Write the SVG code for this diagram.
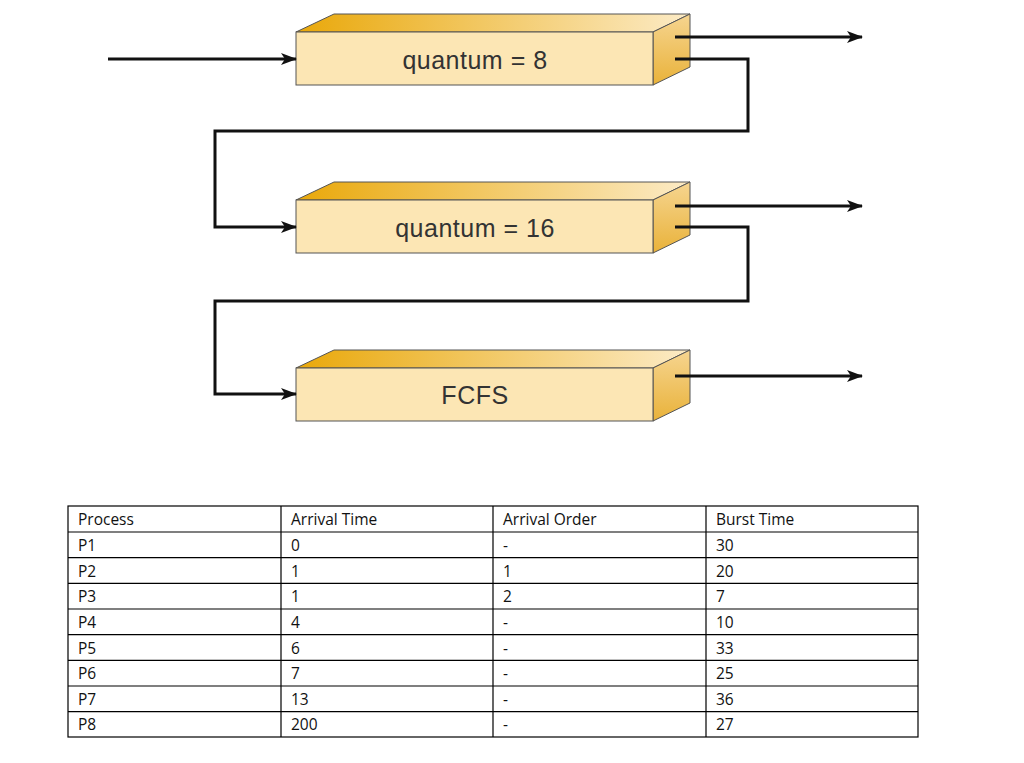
<svg xmlns="http://www.w3.org/2000/svg" width="1024" height="763" viewBox="0 0 1024 763">
<style>
.front{fill:#fce6b4;stroke:#555;stroke-width:1}
.top{fill:url(#gt);stroke:#555;stroke-width:1}
.side{fill:url(#gs);stroke:#555;stroke-width:1}
.lbl{font-family:"Liberation Sans",Arial,sans-serif;font-size:25px;letter-spacing:0.5px;fill:#333;text-anchor:middle}
.ln{fill:none;stroke:#111;stroke-width:3}
.cell{font-family:"Open Sans","Liberation Sans",sans-serif;font-size:15.5px;fill:#111}
.grid{stroke:#000;stroke-width:1.2;fill:none}
</style>
<defs>
<linearGradient id="gt" x1="0" y1="0" x2="1" y2="0"><stop offset="0" stop-color="#e9a80a"/><stop offset="1" stop-color="#fcebc6"/></linearGradient>
<linearGradient id="gs" x1="0" y1="0" x2="0" y2="1"><stop offset="0" stop-color="#f6d590"/><stop offset="1" stop-color="#e9b23a"/></linearGradient>
<marker id="ah" markerWidth="16" markerHeight="12" refX="15" refY="6" orient="auto" markerUnits="userSpaceOnUse"><path d="M0,0 L16,6 L0,12 L4,6 Z" fill="#111"/></marker>
</defs>
<g id="q8">
<polygon class="top" points="296,32 334,14 690,14 653,32"/>
<polygon class="side" points="653,32 690,14 690,67 653,85"/>
<rect class="front" x="296" y="32" width="357" height="53"/>
<text class="lbl" x="475" y="69">quantum = 8</text>
</g>
<g id="q16">
<polygon class="top" points="296,200 334,182 690,182 653,200"/>
<polygon class="side" points="653,200 690,182 690,235 653,253"/>
<rect class="front" x="296" y="200" width="357" height="53"/>
<text class="lbl" x="475" y="237">quantum = 16</text>
</g>
<g id="fcfs">
<polygon class="top" points="296,368 334,350 690,350 653,368"/>
<polygon class="side" points="653,368 690,350 690,403 653,421"/>
<rect class="front" x="296" y="368" width="357" height="53"/>
<text class="lbl" x="475" y="404">FCFS</text>
</g>
<g id="connectors">
<path class="ln" d="M108,59 H296" marker-end="url(#ah)"/>
<path class="ln" d="M675,37 H862" marker-end="url(#ah)"/>
<path class="ln" d="M675,59 H748 V131 H215 V227 H296" marker-end="url(#ah)"/>
<path class="ln" d="M675,206 H862" marker-end="url(#ah)"/>
<path class="ln" d="M675,227 H748 V301 H215 V394 H296" marker-end="url(#ah)"/>
<path class="ln" d="M675,376 H862" marker-end="url(#ah)"/>
</g>
<g id="table">
<rect class="grid" x="68" y="506" width="850" height="231"/>
<path class="grid" d="M281,506V737M493,506V737M706,506V737M68,532H918M68,557.6H918M68,583.3H918M68,609H918M68,634.6H918M68,660.3H918M68,686H918M68,711.6H918"/>
<g class="cell">
<text x="78" y="525">Process</text><text x="291" y="525">Arrival Time</text><text x="503" y="525">Arrival Order</text><text x="716" y="525">Burst Time</text>
<text x="78" y="551">P1</text><text x="291" y="551">0</text><text x="503" y="551">-</text><text x="716" y="551">30</text>
<text x="78" y="577">P2</text><text x="291" y="577">1</text><text x="503" y="577">1</text><text x="716" y="577">20</text>
<text x="78" y="602">P3</text><text x="291" y="602">1</text><text x="503" y="602">2</text><text x="716" y="602">7</text>
<text x="78" y="628">P4</text><text x="291" y="628">4</text><text x="503" y="628">-</text><text x="716" y="628">10</text>
<text x="78" y="654">P5</text><text x="291" y="654">6</text><text x="503" y="654">-</text><text x="716" y="654">33</text>
<text x="78" y="679">P6</text><text x="291" y="679">7</text><text x="503" y="679">-</text><text x="716" y="679">25</text>
<text x="78" y="705">P7</text><text x="291" y="705">13</text><text x="503" y="705">-</text><text x="716" y="705">36</text>
<text x="78" y="730">P8</text><text x="291" y="730">200</text><text x="503" y="730">-</text><text x="716" y="730">27</text>
</g>
</g>
</svg>
